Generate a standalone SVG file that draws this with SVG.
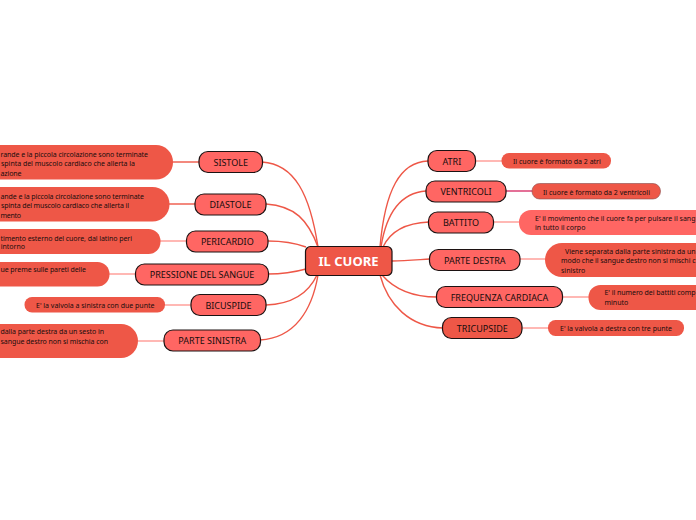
<svg xmlns="http://www.w3.org/2000/svg" width="696" height="520" viewBox="0 0 696 520">
<style>
text{font-family:"Noto Sans","DejaVu Sans",sans-serif;fill:#170d0d}
.n rect{fill:#ff6663;stroke:#1c1212;stroke-width:1.2}
.n text{font-size:9px;text-anchor:middle}
.l rect{fill:#ee5747}
.lb rect{fill:#ff6663}
.t{font-size:7px}
.e{text-anchor:end}
#connectors path{fill:none;stroke:#ee5747;stroke-width:1.4}
#connectors .s{stroke:#ff9a94}
</style>
<rect width="696" height="520" fill="#fff"/>
<g id="connectors">
<path d="M262 162C295 164 310 195 318 247"/>
<path d="M266 204C295 206 308 220 318 247"/>
<path d="M268 241C285 241 295 243 306 247"/>
<path d="M268 274C285 274 295 272 306 269"/>
<path d="M266 305C295 304 310 290 317 275"/>
<path d="M260 340C295 338 312 310 318 275"/>
<path d="M173 162H199"/><path d="M169 204H195"/>
<path class="s" d="M160 241H187"/><path class="s" d="M109 274H136"/><path class="s" d="M165 305H191"/><path class="s" d="M138 341H164"/>
<path d="M428 161C400 162 385 190 380 247"/>
<path d="M426 191C400 193 386 215 381 247"/>
<path d="M429 222C405 223 390 232 383 247"/>
<path d="M430 259C415 260 405 261 392 261"/>
<path d="M437 297C415 297 395 290 382 275"/>
<path d="M443 328C410 327 388 305 380 275"/>
<path class="s" d="M475 161H502"/>
<path d="M506 191H532" style="stroke:#d9336a"/>
<path class="s" d="M493 222H519"/>
<path class="s" d="M520 259H546"/>
<path d="M562 297H589" class="s"/>
<path class="s" d="M522 328H548"/>
</g>
<g id="center" class="n"><rect x="305.500" y="246.500" width="86.500" height="29" rx="5" style="fill:#ee5747"/><text x="348.500" y="266" style="font-size:13px;font-weight:700;fill:#fff">IL CUORE</text></g>
<g id="sistole" class="n"><rect x="199" y="151.500" width="63.500" height="21" rx="9"/><text x="230.700" y="165.500">SISTOLE</text></g>
<g id="diastole" class="n"><rect x="195" y="194" width="71" height="21" rx="9"/><text x="230.500" y="208">DIASTOLE</text></g>
<g id="pericardio" class="n"><rect x="186.500" y="231" width="81.500" height="21" rx="9"/><text x="227.300" y="245">PERICARDIO</text></g>
<g id="pressione" class="n"><rect x="135.500" y="264" width="133" height="21" rx="9"/><text x="202" y="278">PRESSIONE DEL SANGUE</text></g>
<g id="bicuspide" class="n"><rect x="191" y="294.500" width="75" height="21" rx="9"/><text x="228.500" y="308.500">BICUSPIDE</text></g>
<g id="parte-sinistra" class="n"><rect x="164" y="330" width="96.500" height="21" rx="9"/><text x="212.300" y="344">PARTE SINISTRA</text></g>
<g id="atri" class="n"><rect x="428" y="150.500" width="47.500" height="21" rx="9"/><text x="451.800" y="164.500">ATRI</text></g>
<g id="ventricoli" class="n"><rect x="426" y="181" width="80" height="21" rx="9"/><text x="466" y="195">VENTRICOLI</text></g>
<g id="battito" class="n"><rect x="428.500" y="212" width="65" height="21" rx="9"/><text x="461" y="226">BATTITO</text></g>
<g id="parte-destra" class="n"><rect x="429.500" y="249.500" width="90.500" height="21" rx="9"/><text x="474.800" y="263.500">PARTE DESTRA</text></g>
<g id="frequenza" class="n"><rect x="436.500" y="286.500" width="126" height="21" rx="9"/><text x="499.500" y="300.500">FREQUENZA CARDIACA</text></g>
<g id="tricupside" class="n"><rect x="442.500" y="317.500" width="79.500" height="21" rx="9" style="fill:#ee5747"/><text x="482.300" y="331.500">TRICUPSIDE</text></g>
<g id="leaf-sistole" class="l"><rect x="-60" y="145" width="233" height="34.500" rx="17"/><text class="t" x="0.500" y="156.500" textLength="147.500">rande e la piccola circolazione sono terminate</text><text class="t" x="1" y="165.500" textLength="134">spinta del muscolo cardiaco che allerta la</text><text class="t" x="0.500" y="175.500" textLength="21">azione</text></g>
<g id="leaf-diastole" class="l"><rect x="-60" y="187" width="229.500" height="34.500" rx="17"/><text class="t" x="0.500" y="198.500" textLength="143.500">ande e la piccola circolazione sono terminate</text><text class="t" x="1" y="207.500" textLength="128">spinta del muscolo cardiaco che allerta il</text><text class="t" x="0.500" y="217.500" textLength="20.500">mento</text></g>
<g id="leaf-pericardio" class="l"><rect x="-60" y="229" width="220.500" height="25" rx="12"/><text class="t" x="0.500" y="240.500" textLength="131.500">timento esterno del cuore, dal latino peri</text><text class="t e" x="25" y="249">intorno</text></g>
<g id="leaf-pressione" class="l"><rect x="-60" y="262" width="169.500" height="24.500" rx="12"/><text class="t" x="0.500" y="272" textLength="85.500">ue preme sulle pareti delle</text></g>
<g id="leaf-bicuspide" class="l"><rect x="24.500" y="297" width="140.500" height="15.500" rx="7.500"/><text class="t" x="36" y="308">E' la valvola a sinistra con due punte</text></g>
<g id="leaf-sinistra" class="l"><rect x="-60" y="324" width="198" height="34" rx="17"/><text class="t" x="0.500" y="334" textLength="103.500">dalla parte destra da un sesto in</text><text class="t" x="0.500" y="344" textLength="107.500">sangue destro non si mischia con</text></g>
<g id="leaf-atri" class="l"><rect x="501.500" y="153" width="109.500" height="15.500" rx="7.500"/><text class="t" x="513" y="164">Il cuore è formato da 2 atri</text></g>
<g id="leaf-ventricoli" class="l"><rect x="532" y="183.500" width="128.500" height="15.500" rx="7.500" style="stroke:#8a4a4a;stroke-width:.6"/><text class="t" x="543" y="194.500">Il cuore è formato da 2 ventricoli</text></g>
<g id="leaf-battito" class="lb"><rect x="519" y="210" width="240" height="25" rx="12"/><text class="t" x="535" y="220.500" textLength="160.500">E' il movimento che il cuore fa per pulsare il sang</text><text class="t" x="535" y="230">in tutto il corpo</text></g>
<g id="leaf-destra" class="l"><rect x="545" y="243" width="240" height="34" rx="17"/><text class="t" x="565" y="253.500" textLength="130.500">Viene separata dalla parte sinistra da un</text><text class="t" x="561" y="263" textLength="134.500">modo che il sangue destro non si mischi c</text><text class="t" x="561" y="272.500">sinistro</text></g>
<g id="leaf-frequenza" class="l"><rect x="588.500" y="285" width="200" height="25" rx="12"/><text class="t" x="604.500" y="295" textLength="91">E' il numero dei battiti comp</text><text class="t" x="604.500" y="305">minuto</text></g>
<g id="leaf-tricupside" class="l"><rect x="548" y="320" width="136" height="16" rx="7.500"/><text class="t" x="560" y="331">E' la valvola a destra con tre punte</text></g>
</svg>
